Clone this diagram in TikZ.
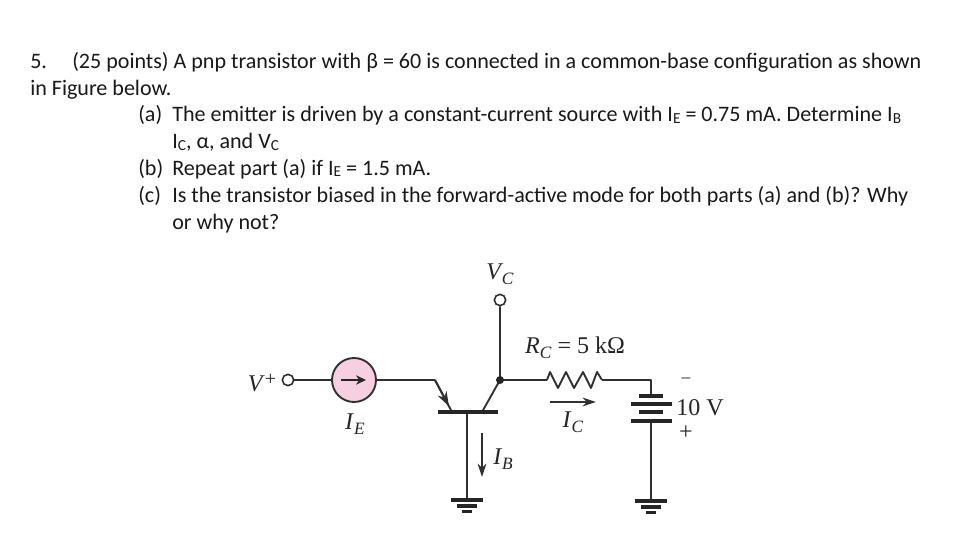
\documentclass[tikz,border=0pt]{standalone}
\usepackage{fontspec}
\setmainfont{Carlito}
\newfontfamily\circfont{Liberation Serif}
\usetikzlibrary{arrows.meta,calc}
\newcommand{\smallidx}[1]{{\fontsize{11.5}{11.5}\selectfont\raisebox{-1pt}{#1}}}
\newcommand{\circidx}[1]{\raisebox{-3.5pt}{\fontsize{13}{13}\selectfont\textit{#1}}}
\definecolor{wirecol}{HTML}{303030}
\definecolor{srcpink}{HTML}{F6CFE0}
\tikzset{
	wire/.style={draw=wirecol, line width=1.4pt, line join=round},
	bar/.style={draw=black!85, line width=2.5pt},
	curarrow/.style={draw=wirecol, line width=1.1pt, -{Stealth[length=10pt,width=6.5pt]}},
	textline/.style={anchor=base west, inner sep=0pt, text=black!90, font=\fontsize{16.55}{16.55}\selectfont},
	circlabel/.style={inner sep=0pt, text=black!85, font=\circfont\fontsize{18}{18}\selectfont},
	terminal/.style={circle, draw=wirecol, line width=1.2pt, fill=white, minimum size=8.5pt, inner sep=0pt},
}
\begin{document}
\begin{tikzpicture}[x=0.75pt, y=-0.75pt]
	\useasboundingbox[fill=white] (0,0) rectangle (966,545);
	% question text
	\node[textline] (l1) at (30,68.5) {5.};
	\node[textline] (l1b) at (72,68.5) {(25 points) A pnp transistor with β = 60 is connected in a common-base configuration as shown};
	\node[textline] (l2) at (30,95.5) {in Figure below.};
	\node[textline] (l3) at (138,122) {(a)};
	\node[textline] (l3b) at (172,122) {The emitter is driven by a constant-current source with I\smallidx{E} = 0.75 mA. Determine I\smallidx{B}};
	\node[textline] (l4) at (172,149) {I\smallidx{C}, α, and V\smallidx{C}};
	\node[textline] (l5) at (138,175.5) {(b)};
	\node[textline] (l5b) at (172,175.5) {Repeat part (a) if I\smallidx{E} = 1.5 mA.};
	\node[textline] (l6) at (138,202.5) {(c)};
	\node[textline] (l6b) at (172,202.5) {Is the transistor biased in the forward-active mode for both parts (a) and (b)? Why};
	\node[textline] (l7) at (172,229.5) {or why not?};
	% circuit points
	\coordinate (E) at (435,380);
	\coordinate (Ei) at (452,412);
	\coordinate (Ci) at (482,412);
	\coordinate (BL) at (438,412);
	\coordinate (BR) at (498,412);
	\coordinate (B) at (467,412);
	\coordinate (J) at (500,380);
	\coordinate (RL) at (547,380);
	\coordinate (RR) at (602,380);
	\coordinate (T) at (651,380);
	\coordinate (Bt) at (651,396);
	\coordinate (Bb) at (651,421);
	\coordinate (G1) at (467,500);
	\coordinate (G2) at (651,501);
	\node[terminal] (Vp) at (288,380) {};
	\node[terminal] (Vc) at (500,300) {};
	\node[circle, draw=wirecol, line width=1.4pt, fill=srcpink, minimum size=33pt, inner sep=0pt] (S) at (354,380) {};
	\draw[wire] (Vp)--(S) (S)--(E);
	\draw[wire, -{Stealth[length=11pt,width=7.5pt]}] (E)--($(E)!0.82!(Ei)$);
	\draw[wire] (E)--(Ei) (Ci)--(J) (Vc)--(J) (J)--(RL) (RR)--(T)--(Bt) (Bb)--(G2) (B)--(G1);
	\fill[black!85] (J) circle (4);
	\draw[bar] (BL)--(BR);
	% source arrow
	\draw[line width=2.2pt, draw=black!85, -{Stealth[length=7.5pt,width=7pt]}] (341,380)--(366,380);
	% resistor
	\draw[wire] (RL)--(550,372)--(558,388)--(566,372)--(574,388)--(583,372)--(591,388)--(597,372)--(RR);
	% battery
	\draw[bar] (639,396)--(663,396) (631,404)--(672,404) (639,412)--(663,412) (631,421)--(672,421);
	% grounds
	\foreach \g in {G1,G2}{
		\draw[bar] ([xshift=-12pt]\g)--([xshift=12pt]\g);
		\draw[bar] ([xshift=-7.5pt,yshift=-4.5pt]\g)--([xshift=7.5pt,yshift=-4.5pt]\g);
		\draw[bar] ([xshift=-3.75pt,yshift=-8.5pt]\g)--([xshift=3.75pt,yshift=-8.5pt]\g);
	}
	% currents
	\draw[curarrow] (482,433)--(482,477);
	\draw[curarrow] (550,402)--(596,402);
	% labels
	\node[circlabel] (Vplab) at (262,383) {\textit{V}\raisebox{4pt}{\fontsize{15}{15}\selectfont +}};
	\node[circlabel] (Vclab) at (500,274) {\textit{V}\kern-1.2pt\circidx{C}};
	\node[circlabel] (Ielab) at (355,424) {\textit{I}\circidx{E}};
	\node[circlabel] (Iblab) at (503,459) {\textit{I}\circidx{B}};
	\node[circlabel] (Iclab) at (573,422) {\textit{I}\circidx{C}};
	\node[circlabel] (Rclab) at (575,348) {\textit{R}\circidx{C} = 5 kΩ};
	\node[circlabel] (minus) at (686,380) {\fontsize{13}{13}\selectfont –};
	\node[circlabel] (volt) at (700,408) {10 V};
	\node[circlabel] (plus) at (686,433) {+};
\end{tikzpicture}
\end{document}
